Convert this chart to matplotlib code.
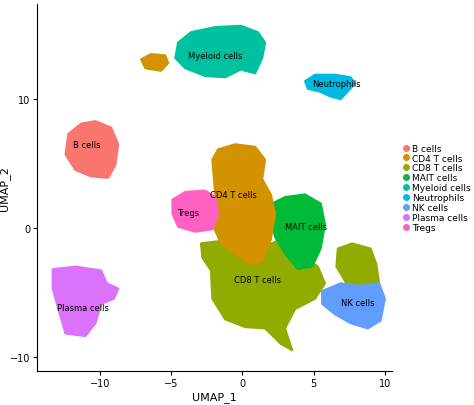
import matplotlib
matplotlib.use("Agg")
import matplotlib.pyplot as plt
from matplotlib.lines import Line2D

categories = ["B cells", "CD4 T cells", "CD8 T cells", "MAIT cells", "Myeloid cells",
              "Neutrophils", "NK cells", "Plasma cells", "Tregs"]
colors = ["#F8766D", "#D39200", "#93AA00", "#00BA38", "#00C19F",
          "#00B9E3", "#619CFF", "#DB72FB", "#FF61C3"]

# cluster outlines (UMAP_1, UMAP_2)
outlines = {
    "CD8 T cells": [
        [(-2.9,-1.2),(-1.5,-1.0),(-0.1,-1.6),(1.4,-1.5),(2.7,-0.9),(4.1,-2.0),(5.3,-3.0),(5.8,-4.3),
         (5.1,-5.5),(3.7,-6.3),(3.0,-7.8),(3.5,-9.5),(2.7,-9.0),(1.6,-7.8),(0.2,-7.7),(-1.2,-7.1),
         (-2.1,-5.5),(-2.2,-3.3),(-2.8,-2.3)],
        [(6.7,-1.6),(7.7,-1.2),(9.0,-1.6),(9.4,-2.8),(9.6,-4.3),(8.3,-4.7),(7.3,-4.3),(6.6,-3.0)]],
    "NK cells": [
        [(5.6,-4.9),(6.9,-4.3),(8.3,-4.5),(9.6,-4.3),(10.0,-5.5),(9.7,-7.2),(8.8,-7.8),(7.6,-7.4),
         (6.5,-6.7),(5.6,-5.9)]],
    "MAIT cells": [
        [(2.1,1.9),(3.0,2.4),(4.4,2.6),(5.5,1.9),(5.8,0.3),(5.5,-1.6),(4.9,-3.0),(3.9,-3.2),
         (3.0,-2.0),(2.3,-0.7),(2.0,0.7)]],
    "CD4 T cells": [
        [(-2.1,5.3),(-1.7,6.1),(-0.5,6.5),(0.9,6.3),(1.6,5.3),(1.4,3.8),(2.0,2.6),(2.3,1.1),
         (2.0,-0.9),(1.4,-2.6),(0.6,-2.8),(-0.5,-2.0),(-1.5,-1.2),(-2.1,0.3),(-1.9,2.6)],
        [(-7.1,13.1),(-6.4,13.5),(-5.4,13.4),(-5.2,12.8),(-5.7,12.2),(-6.8,12.4)]],
    "Tregs": [
        [(-4.9,2.2),(-4.0,2.8),(-2.6,2.9),(-1.9,2.4),(-1.7,1.1),(-2.1,-0.1),(-3.3,-0.3),
         (-4.5,0.1),(-4.9,1.1)]],
    "Myeloid cells": [
        [(-4.5,14.4),(-3.6,15.2),(-1.9,15.6),(-0.1,15.7),(1.1,15.2),(1.6,14.4),(1.4,13.2),
         (0.9,12.0),(-0.1,12.3),(-1.2,11.7),(-2.6,11.8),(-4.0,12.4),(-4.7,13.2)]],
    "Neutrophils": [
        [(4.4,11.4),(5.1,11.9),(6.5,11.9),(7.6,11.7),(7.9,11.2),(7.4,10.6),(6.9,10.0),
         (6.2,10.2),(5.4,10.6),(4.6,10.8)]],
    "B cells": [
        [(-12.2,7.3),(-11.3,8.1),(-10.3,8.3),(-9.2,7.8),(-8.7,6.5),(-8.9,4.9),(-9.4,3.9),
         (-10.6,4.0),(-11.7,4.5),(-12.4,5.7)]],
    "Plasma cells": [
        [(-13.3,-3.2),(-11.7,-3.0),(-9.9,-3.3),(-9.5,-4.3),(-8.7,-4.7),(-9.0,-5.5),(-9.9,-5.9),
         (-10.3,-7.4),(-11.0,-8.4),(-12.4,-8.2),(-12.9,-6.3),(-13.3,-4.7)]],
}
labels_pos = {
    "Myeloid cells": (-1.9, 13.4), "Neutrophils": (6.6, 11.2), "B cells": (-10.9, 6.5),
    "Tregs": (-3.8, 1.2), "CD4 T cells": (-0.6, 2.6), "MAIT cells": (4.5, 0.1),
    "CD8 T cells": (1.1, -4.0), "NK cells": (8.1, -5.8), "Plasma cells": (-11.2, -6.2),
}

fig = plt.figure(figsize=(4.74, 4.06), dpi=100)
ax = fig.add_axes([0.078, 0.084, 0.749, 0.904])
cmap = dict(zip(categories, colors))
for name in ["CD8 T cells", "NK cells", "MAIT cells", "CD4 T cells", "Tregs",
             "Myeloid cells", "Neutrophils", "B cells", "Plasma cells"]:
    for poly in outlines[name]:
        xs, ys = zip(*poly)
        ax.fill(xs, ys, color=cmap[name], lw=1.5, ec=cmap[name], joinstyle="round")
for name, (x, y) in labels_pos.items():
    ax.text(x, y, name, fontsize=6, ha="center", va="center")

ax.set_xlim(-14.4, 10.5)
ax.set_ylim(-11.1, 17.4)
ax.set_xticks([-10, -5, 0, 5, 10])
ax.set_yticks([-10, 0, 10])
ax.tick_params(labelsize=7, length=3, pad=2)
for s in ["top", "right"]:
    ax.spines[s].set_visible(False)
ax.set_xlabel("UMAP_1", fontsize=8, labelpad=2)
ax.set_ylabel("UMAP_2", fontsize=8, labelpad=0)

handles = [Line2D([], [], marker="o", ls="", color=c, markersize=4) for c in colors]
fig.legend(handles, categories, loc="center left", bbox_to_anchor=(0.84, 0.535),
           frameon=False, fontsize=6.5, handletextpad=0.1, labelspacing=0.1,
           borderaxespad=0, handlelength=1)
fig.savefig("out.png", dpi=100)
